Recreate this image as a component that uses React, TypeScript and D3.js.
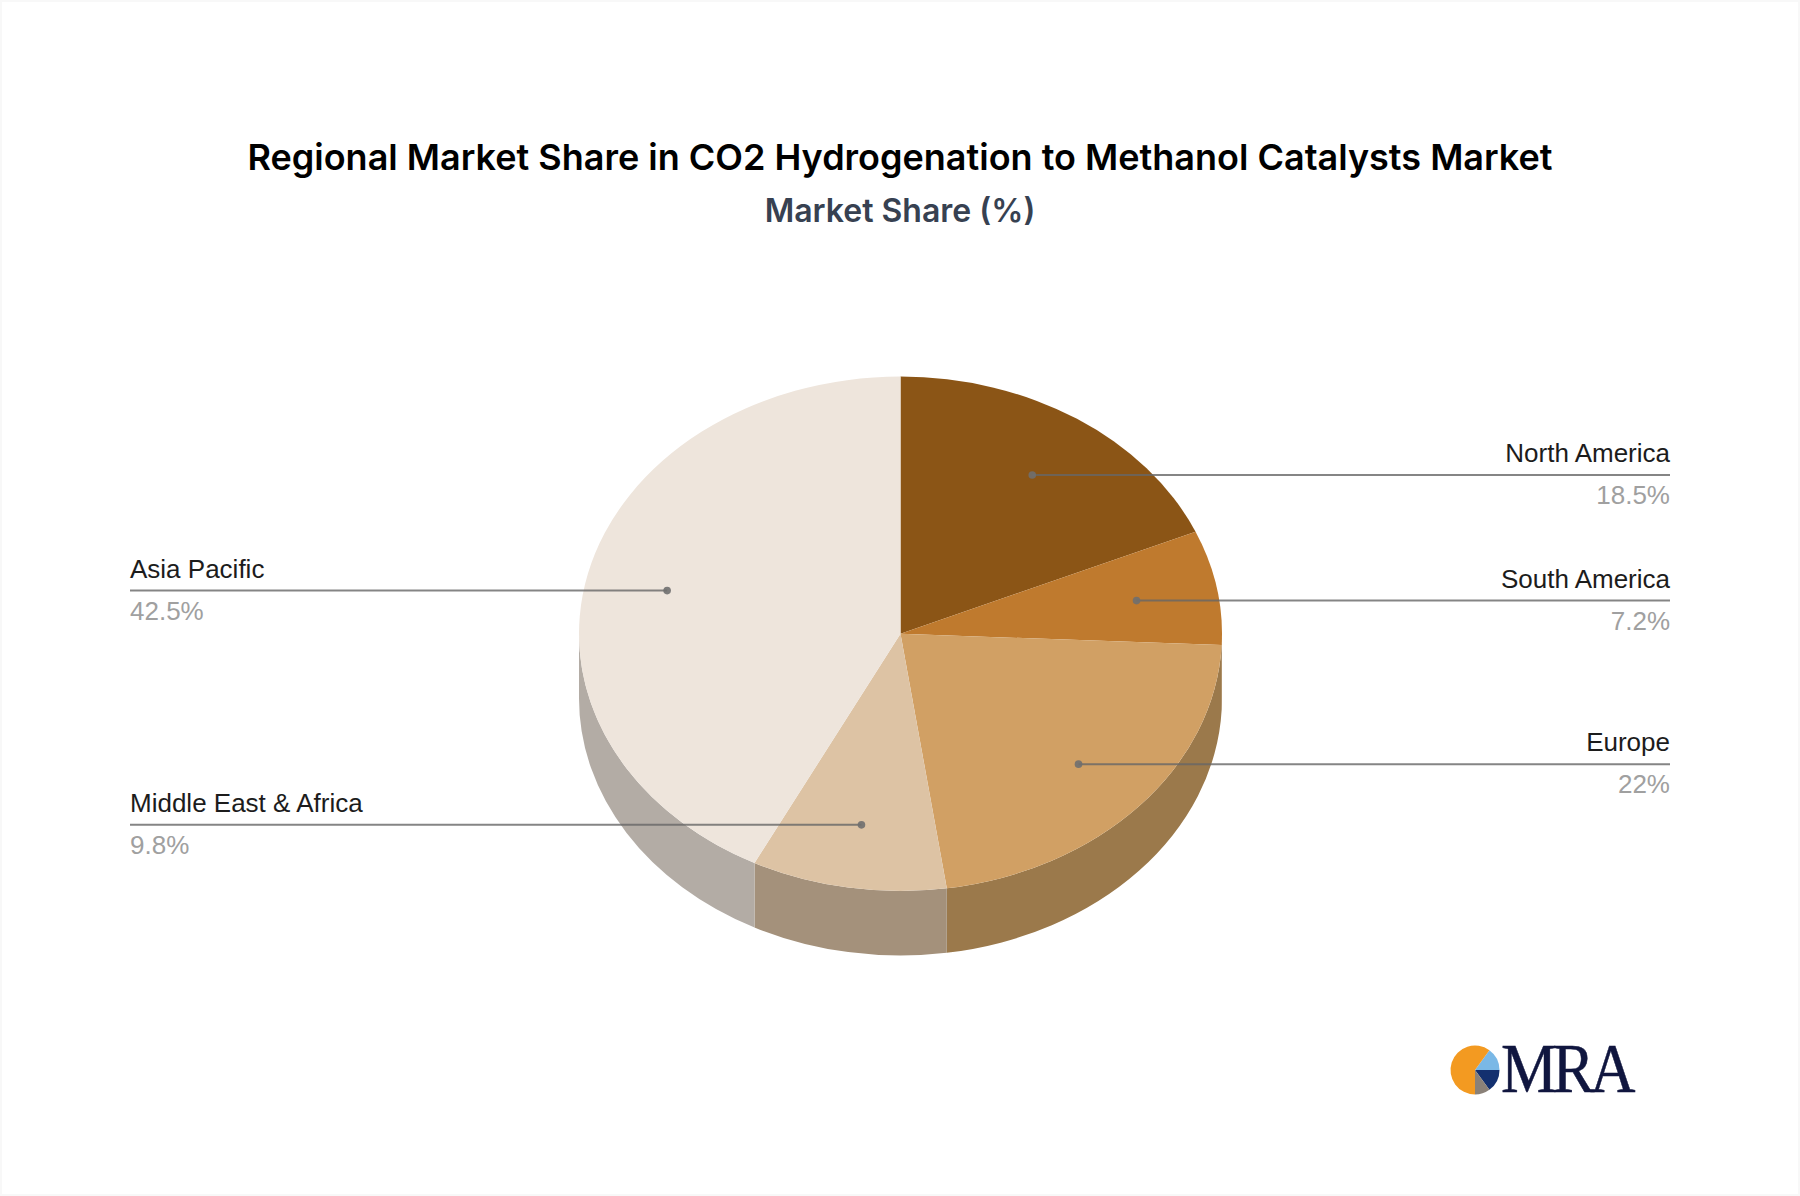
import * as d3 from "d3";

const WIDTH = 1800;
const HEIGHT = 1196;

const TITLE = "Regional Market Share in CO2 Hydrogenation to Methanol Catalysts Market";
const SUBTITLE = "Market Share (%)";

const regions = ["North America", "South America", "Europe", "Middle East & Africa", "Asia Pacific"];
const shares = [18.5, 7.2, 22, 9.8, 42.5];
const shareLabels = ["18.5%", "7.2%", "22%", "9.8%", "42.5%"];
const labelOnRight = [true, true, true, false, false];
const topColors = ["#8b5516", "#bf7a2e", "#d1a064", "#ddc3a4", "#eee5dc"];
const sideColors = ["#67400f", "#8d5b22", "#9b794b", "#a4917b", "#b3aca5"];

const logoShares = [15, 15, 10, 60];
const logoColors = ["#7ab8e6", "#13306f", "#8a8178", "#f39a21"];

const CX = 900.5;
const CY = 633.8;
const RADIUS = 321.5;
const TILT = 0.8;
const DEPTH = 64.5;
const LINE_CY = 635.4;
const LEFT_X = 130;
const RIGHT_X = 1670;

const SANS = "'Liberation Sans', Arial, sans-serif";

const pie = d3.pie<number>().sort(null).value((d) => d);
const slices = pie(shares);
const arc = d3.arc<d3.PieArcDatum<number>>().innerRadius(0).outerRadius(RADIUS);
const anchorArc = d3.arc<d3.PieArcDatum<number>>().innerRadius(240).outerRadius(240);

// wall below the rim, only the part of the slice that faces the viewer
function sidePath(a0: number, a1: number) {
  const start = Math.max(a0, Math.PI / 2) - Math.PI / 2;
  const end = Math.min(a1, (Math.PI * 3) / 2) - Math.PI / 2;
  if (end <= start) return null;
  const d = DEPTH / TILT;
  const p = d3.path();
  p.arc(0, 0, RADIUS, start, end);
  p.arc(0, d, RADIUS, end, start, true);
  p.closePath();
  return p.toString();
}

function Logo() {
  const first = Math.PI / 5;
  const logoPie = d3.pie<number>().sort(null).value((d) => d).startAngle(first).endAngle(first + Math.PI * 2);
  const logoArc = d3.arc<d3.PieArcDatum<number>>().innerRadius(0).outerRadius(24.5);
  return (
    <g>
      <g transform="translate(1475,1070)">
        {logoPie(logoShares).map((s, i) => (
          <path key={i} d={logoArc(s) ?? ""} fill={logoColors[i]} />
        ))}
      </g>
      <text
        transform="translate(1501,1091.5) scale(0.9,1)"
        fontFamily="'Liberation Serif', serif"
        fontSize={70}
        letterSpacing={-5}
        fill="#10163f"
        stroke="#10163f"
        strokeWidth={0.5}
      >
        MRA
      </text>
    </g>
  );
}

export default function App() {
  return (
    <svg
      width={WIDTH}
      height={HEIGHT}
      viewBox={`0 0 ${WIDTH} ${HEIGHT}`}
      style={{ position: "absolute", left: 0, top: 0, background: "#fff" }}
    >
      <rect width={WIDTH} height={HEIGHT} fill="none" stroke="#f8f8f8" strokeWidth={4} />

      <text x={900} y={170} textAnchor="middle" fontFamily="Inter, sans-serif" fontSize={36} fontWeight={600} fill="#000">
        {TITLE}
      </text>
      <text x={900} y={222} textAnchor="middle" fontFamily="Inter, sans-serif" fontSize={32} fontWeight={600} fill="#374151">
        {SUBTITLE}
      </text>

      <g transform={`translate(${CX},${CY}) scale(1,${TILT})`}>
        {slices.map((s, i) => {
          const d = sidePath(s.startAngle, s.endAngle);
          return d ? <path key={i} d={d} fill={sideColors[i]} /> : null;
        })}
        {slices.map((s, i) => (
          <path key={i} d={arc(s) ?? ""} fill={topColors[i]} />
        ))}
      </g>

      {slices.map((s, i) => {
        const [ax, ay] = anchorArc.centroid(s);
        const x = CX + ax;
        const y = LINE_CY + ay * TILT;
        const endX = labelOnRight[i] ? RIGHT_X : LEFT_X;
        const anchor = labelOnRight[i] ? "end" : "start";
        return (
          <g key={regions[i]}>
            <line x1={x} y1={y} x2={endX} y2={y} stroke="#666" strokeOpacity={0.8} strokeWidth={2} />
            <circle cx={x} cy={y} r={3.8} fill="#6f6f6f" fillOpacity={0.9} />
            <text x={endX} y={y - 13} textAnchor={anchor} fontFamily={SANS} fontSize={26} fill="#1c1c1c">
              {regions[i]}
            </text>
            <text x={endX} y={y + 29} textAnchor={anchor} fontFamily={SANS} fontSize={26} fill="#a0a0a0">
              {shareLabels[i]}
            </text>
          </g>
        );
      })}

      <Logo />
    </svg>
  );
}
